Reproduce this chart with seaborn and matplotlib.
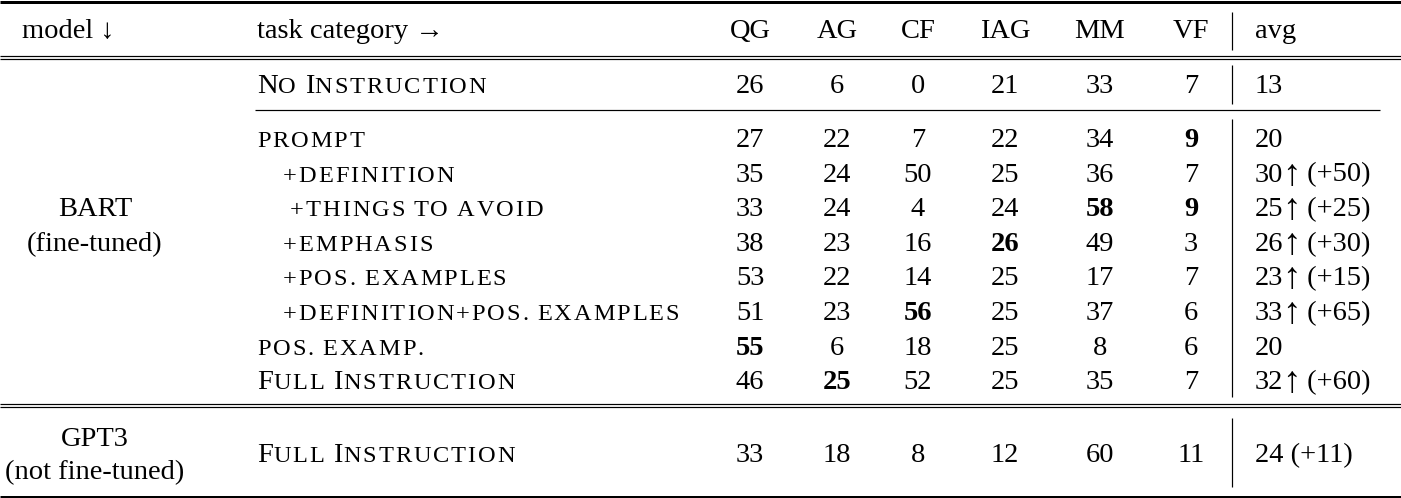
import matplotlib
matplotlib.use("Agg")
import matplotlib.pyplot as plt
import seaborn as sns

# table data
columns = ["QG", "AG", "CF", "IAG", "MM", "VF"]
row_labels = ["No Instruction", "prompt", "+definition", " +things to avoid",
              "+emphasis", "+pos. examples", "+definition+pos. examples",
              "pos. examp.", "Full Instruction", "Full Instruction"]
indent = [0, 0, 1, 1, 1, 1, 1, 0, 0, 0]
qg = [26, 27, 35, 33, 38, 53, 51, 55, 46, 33]
ag = [6, 22, 24, 24, 23, 22, 23, 6, 25, 18]
cf = [0, 7, 50, 4, 16, 14, 56, 18, 52, 8]
iag = [21, 22, 25, 24, 26, 25, 25, 25, 25, 12]
mm = [33, 34, 36, 58, 49, 17, 37, 8, 35, 60]
vf = [7, 9, 7, 9, 3, 7, 6, 6, 7, 11]
avg = ["13", "20", "30\u2191 (+50)", "25\u2191 (+25)", "26\u2191 (+30)",
       "23\u2191 (+15)", "33\u2191 (+65)", "20", "32\u2191 (+60)", "24 (+11)"]
# (row, column) cells set in bold
bold_cells = [(1, 5), (3, 4), (3, 5), (4, 3), (6, 2), (7, 0), (8, 1)]

sns.set_theme(style="white")
plt.rcParams['font.family'] = ['Liberation Serif', 'DejaVu Serif']
plt.rcParams['text.color'] = 'black'

BIG = 20.5
SMALL = 17.6
TRACK = 1.9

fig = plt.figure(figsize=(14.01, 4.98), dpi=100)
ax = fig.add_axes([0, 0, 1, 1])
ax.set_xlim(0, 1401)
ax.set_ylim(498, 0)
ax.axis("off")
fig.canvas.draw()
renderer = fig.canvas.get_renderer()


def text_width(s, size):
    t = ax.text(0, 0, s, fontsize=size)
    w = t.get_window_extent(renderer).width
    t.remove()
    return w


def small_caps(x, y, text):
    # capitals full size, everything else as spaced small capitals
    for ch in text:
        if ch == " ":
            x += 7
            continue
        size = BIG if ch.isupper() else SMALL
        ax.text(x, y, ch.upper(), fontsize=size, ha="left", va="baseline",
                color="black")
        x += text_width(ch.upper(), size) + (TRACK if size == SMALL else 0.5)


def avg_text(x, y, s):
    # taller, thin arrow right after the number
    if "\u2191" in s:
        num, rest = s.split("\u2191")
        t = ax.text(x, y, num, fontsize=BIG, va="baseline")
        x += t.get_window_extent(renderer).width
        t = ax.text(x - 1, y + 3, "\u2191", fontsize=BIG * 1.3, va="baseline")
        x += t.get_window_extent(renderer).width - 2
        ax.text(x, y, rest, fontsize=BIG, va="baseline")
    else:
        ax.text(x, y, s, fontsize=BIG, va="baseline")


col_x = [750, 837, 918, 1005, 1100, 1191]
avg_x = 1255
div_x = 1232
header_y = 38
row_y = [93, 147, 181.6, 216.2, 250.8, 285.4, 320, 354.6, 389.2, 462]

# header
ax.text(22, header_y, "model \u2193", fontsize=BIG, va="baseline")
ax.text(257, header_y, "task category \u2192", fontsize=BIG, va="baseline")
for cx, name in zip(col_x, columns):
    ax.text(cx, header_y, name, fontsize=BIG, ha="center", va="baseline")
ax.text(avg_x, header_y, "avg", fontsize=BIG, va="baseline")

# body
values = list(zip(qg, ag, cf, iag, mm, vf))
for i, (label, y) in enumerate(zip(row_labels, row_y)):
    small_caps(257 + 26 * indent[i], y, label)
    for j, v in enumerate(values[i]):
        w = "bold" if (i, j) in bold_cells else "normal"
        ax.text(col_x[j], y, str(v), fontsize=BIG, ha="center",
                va="baseline", fontweight=w)
    avg_text(avg_x, y, avg[i])

ax.text(95, 216.2, "BART", fontsize=BIG, ha="center", va="baseline")
ax.text(95, 250.8, "(fine-tuned)", fontsize=BIG, ha="center", va="baseline")
ax.text(95, 446, "GPT3", fontsize=BIG, ha="center", va="baseline")
ax.text(95, 479, "(not fine-tuned)", fontsize=BIG, ha="center", va="baseline")

# rules
k = 0.72
ax.hlines(1.5, 0, 1401, color="black", lw=3 * k)
ax.hlines([56, 59], 0, 1401, color="black", lw=1.2 * k)
ax.hlines(110, 255, 1380, color="black", lw=1.2 * k)
ax.hlines([404, 407], 0, 1401, color="black", lw=1.2 * k)
ax.hlines(496.5, 0, 1401, color="black", lw=3 * k)
for y0, y1 in [(12, 50), (65, 104), (119, 397), (418, 487)]:
    ax.vlines(div_x, y0, y1, color="black", lw=1.2 * k)

fig.savefig("out.png", dpi=100)
